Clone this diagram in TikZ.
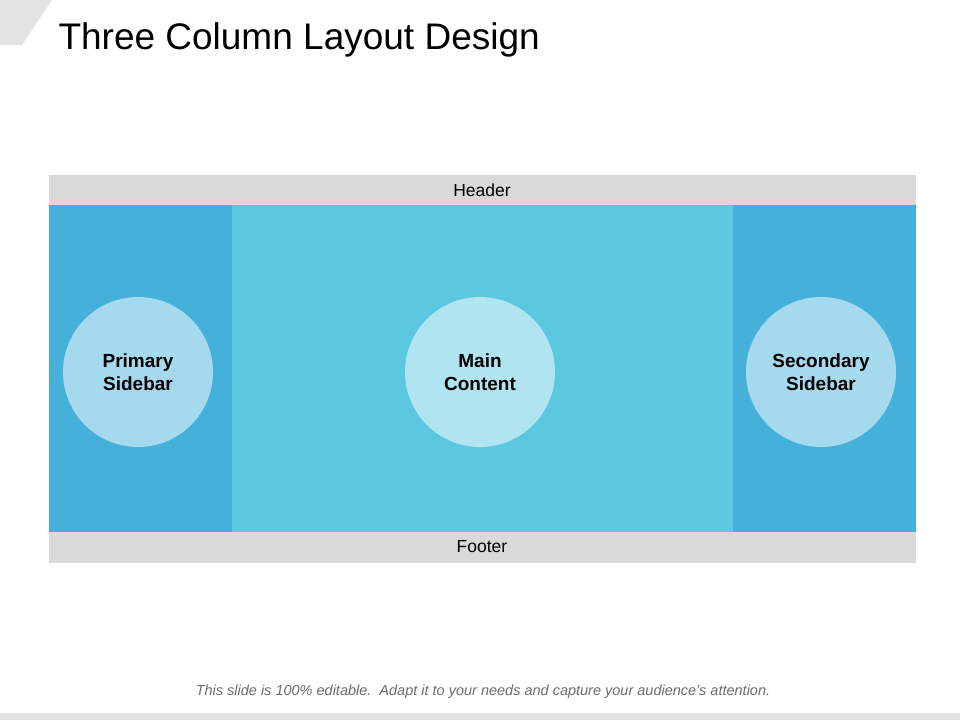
\documentclass[tikz,border=0pt]{standalone}
\usepackage{fontspec}
\setmainfont{Liberation Sans}
\definecolor{hdr}{HTML}{D9D9D9}
\definecolor{side}{HTML}{45B0DA}
\definecolor{mid}{HTML}{5BC8DF}
\definecolor{cside}{HTML}{A5DAEE}
\definecolor{cmid}{HTML}{B0E4F0}
\definecolor{deco}{HTML}{E3E3E3}
\begin{document}
\begin{tikzpicture}[x=1pt,y=-1pt,
  band/.style={fill=hdr,draw=none},
  circ/.style={circle,minimum size=150pt,inner sep=0pt,font=\bfseries\fontsize{19}{23}\selectfont,align=center},
  lbl/.style={font=\fontsize{17.5}{20}\selectfont}]
\useasboundingbox (0,0) rectangle (960,720);
\fill[white] (0,0) rectangle (960,720);
\fill[deco] (0,0) -- (52,0) -- (22,45) -- (0,45) -- cycle;
\fill[deco] (0,713) rectangle (960,720);
\node[anchor=west,font=\fontsize{37}{42}\selectfont] (title) at (55,40) {Three Column Layout Design};
\fill[band] (49,175) rectangle (916,205);
\node[lbl] (header) at (482,190) {Header};
\fill[side] (49,205) rectangle (232,532);
\fill[mid] (232,205) rectangle (733,532);
\fill[side] (733,205) rectangle (916,532);
\fill[band] (49,532) rectangle (916,563);
\node[lbl] (footer) at (482,547) {Footer};
\node[circ,fill=cside] (ps) at (138,372) {Primary\\Sidebar};
\node[circ,fill=cmid] (mc) at (480,372) {Main\\Content};
\node[circ,fill=cside] (ss) at (821,372) {Secondary\\Sidebar};
\node[font=\itshape\fontsize{14.5}{16}\selectfont,text=gray!85!black] (note) at (483,692) {This slide is 100\% editable.\ \ Adapt it to your needs and capture your audience's attention.};
\end{tikzpicture}
\end{document}
